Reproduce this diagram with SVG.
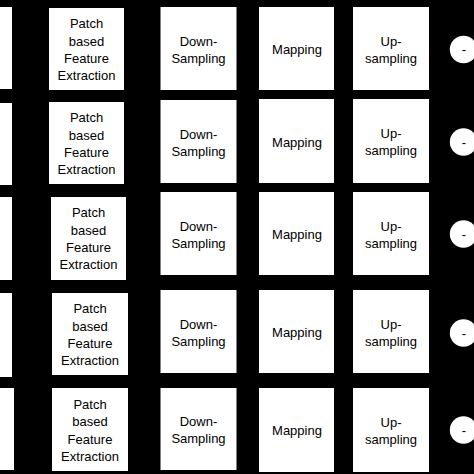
<svg xmlns="http://www.w3.org/2000/svg" width="474" height="474" viewBox="0 0 474 474">
<style>
.b{fill:#fff;stroke:none}
.t{font-family:"Liberation Sans",Arial,sans-serif;font-size:13px;fill:#000;text-anchor:middle}
</style>
<rect x="0" y="0" width="474" height="474" fill="#000"/>
<g id="connectors"/>
<!-- Row 1 -->
<g id="r1-input"><rect class="b" x="-1" y="7" width="13" height="82"/></g>
<g id="r1-patch"><rect class="b" x="49" y="8" width="75" height="82"/>
<text class="t" x="86.5" y="28">Patch</text><text class="t" x="86.5" y="45.5">based</text><text class="t" x="86.5" y="63">Feature</text><text class="t" x="86.5" y="80">Extraction</text></g>
<g id="r1-down"><rect class="b" x="160.5" y="7" width="76" height="83"/>
<text class="t" x="198.5" y="45.5">Down-</text><text class="t" x="198.5" y="62.5">Sampling</text></g>
<g id="r1-map"><rect class="b" x="259" y="7" width="75" height="83"/>
<text class="t" x="297" y="54">Mapping</text></g>
<g id="r1-up"><rect class="b" x="353" y="7" width="76" height="83"/>
<text class="t" x="391" y="45.5">Up-</text><text class="t" x="391" y="62.5">sampling</text></g>
<g id="r1-out"><circle class="b" cx="463.5" cy="49.5" r="13.7"/><text class="t" x="464" y="54">-</text></g>
<!-- Row 2 -->
<g id="r2-input"><rect class="b" x="-1" y="103" width="13" height="82"/></g>
<g id="r2-patch"><rect class="b" x="49" y="102" width="75" height="82"/>
<text class="t" x="86.5" y="122">Patch</text><text class="t" x="86.5" y="139.5">based</text><text class="t" x="86.5" y="157">Feature</text><text class="t" x="86.5" y="174">Extraction</text></g>
<g id="r2-down"><rect class="b" x="160.5" y="100" width="76" height="83"/>
<text class="t" x="198.5" y="138.5">Down-</text><text class="t" x="198.5" y="155.5">Sampling</text></g>
<g id="r2-map"><rect class="b" x="259" y="99" width="75" height="84"/>
<text class="t" x="297" y="146.5">Mapping</text></g>
<g id="r2-up"><rect class="b" x="353" y="99" width="76" height="84"/>
<text class="t" x="391" y="138">Up-</text><text class="t" x="391" y="155">sampling</text></g>
<g id="r2-out"><circle class="b" cx="463.5" cy="142" r="13.7"/><text class="t" x="464" y="146.5">-</text></g>
<!-- Row 3 -->
<g id="r3-input"><rect class="b" x="-1" y="197" width="13" height="83"/></g>
<g id="r3-patch"><rect class="b" x="51" y="197" width="75" height="83"/>
<text class="t" x="88.5" y="217">Patch</text><text class="t" x="88.5" y="234.5">based</text><text class="t" x="88.5" y="252">Feature</text><text class="t" x="88.5" y="269">Extraction</text></g>
<g id="r3-down"><rect class="b" x="160.5" y="192" width="76" height="83"/>
<text class="t" x="198.5" y="230.5">Down-</text><text class="t" x="198.5" y="247.5">Sampling</text></g>
<g id="r3-map"><rect class="b" x="259" y="192" width="75" height="83"/>
<text class="t" x="297" y="239">Mapping</text></g>
<g id="r3-up"><rect class="b" x="353" y="192" width="76" height="83"/>
<text class="t" x="391" y="230.5">Up-</text><text class="t" x="391" y="247.5">sampling</text></g>
<g id="r3-out"><circle class="b" cx="463.5" cy="234" r="13.7"/><text class="t" x="464" y="238.5">-</text></g>
<!-- Row 4 -->
<g id="r4-input"><rect class="b" x="-1" y="293" width="13" height="84"/></g>
<g id="r4-patch"><rect class="b" x="52" y="293" width="76" height="82"/>
<text class="t" x="90" y="313">Patch</text><text class="t" x="90" y="330.5">based</text><text class="t" x="90" y="348">Feature</text><text class="t" x="90" y="365">Extraction</text></g>
<g id="r4-down"><rect class="b" x="160.5" y="290" width="76" height="83"/>
<text class="t" x="198.5" y="328.5">Down-</text><text class="t" x="198.5" y="345.5">Sampling</text></g>
<g id="r4-map"><rect class="b" x="259" y="290" width="75" height="83"/>
<text class="t" x="297" y="337">Mapping</text></g>
<g id="r4-up"><rect class="b" x="353" y="290" width="76" height="83"/>
<text class="t" x="391" y="328.5">Up-</text><text class="t" x="391" y="345.5">sampling</text></g>
<g id="r4-out"><circle class="b" cx="463.5" cy="333" r="13.7"/><text class="t" x="464" y="337.5">-</text></g>
<!-- Row 5 -->
<g id="r5-input"><rect class="b" x="-1" y="388" width="15" height="82"/></g>
<g id="r5-patch"><rect class="b" x="52" y="388" width="76" height="83"/>
<text class="t" x="90" y="408.5">Patch</text><text class="t" x="90" y="426">based</text><text class="t" x="90" y="443.5">Feature</text><text class="t" x="90" y="460.5">Extraction</text></g>
<g id="r5-down"><rect class="b" x="160.5" y="388" width="76" height="82"/>
<text class="t" x="198.5" y="426">Down-</text><text class="t" x="198.5" y="443">Sampling</text></g>
<g id="r5-map"><rect class="b" x="259" y="388" width="75" height="84"/>
<text class="t" x="297" y="435">Mapping</text></g>
<g id="r5-up"><rect class="b" x="353" y="388" width="76" height="84"/>
<text class="t" x="391" y="426.5">Up-</text><text class="t" x="391" y="443.5">sampling</text></g>
<g id="r5-out"><circle class="b" cx="463.5" cy="430" r="13.7"/><text class="t" x="464" y="434.5">-</text></g>
</svg>
